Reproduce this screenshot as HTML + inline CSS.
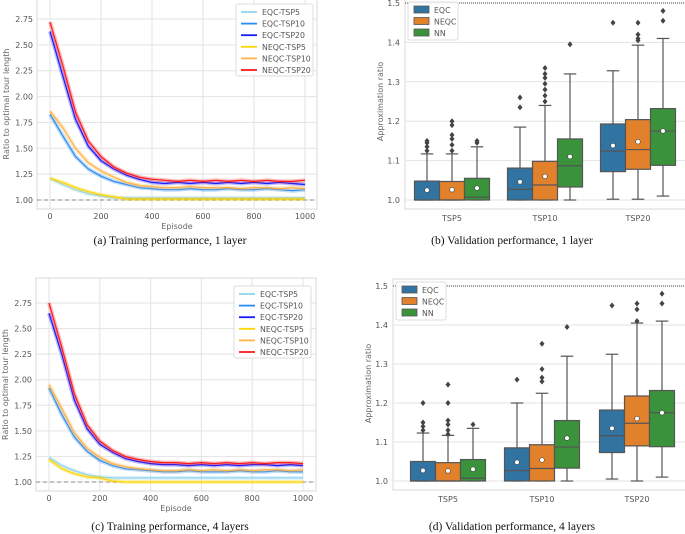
<!DOCTYPE html>
<html><head><meta charset="utf-8"><style>
body{margin:0;background:#fff;}
svg{display:block;font-family:"DejaVu Sans","Liberation Sans",sans-serif;}
.cap{font-family:"Liberation Serif",serif;font-size:11.5px;fill:#111;}
</style></head><body>
<svg id="fig" width="685" height="534" viewBox="0 0 685 534" xmlns="http://www.w3.org/2000/svg"></svg>
<script>
// ---- training data (episodes sampled every 50) ----
const episodes=[0,50,100,150,200,250,300,350,400,450,500,550,600,650,700,750,800,850,900,950,1000];
const seriesNames=["EQC-TSP5","EQC-TSP10","EQC-TSP20","NEQC-TSP5","NEQC-TSP10","NEQC-TSP20"];
const a_eqc5=[1.21,1.15,1.10,1.06,1.04,1.02,1.02,1.02,1.02,1.02,1.02,1.02,1.02,1.02,1.02,1.02,1.02,1.02,1.02,1.02,1.02];
const a_eqc10=[1.83,1.62,1.42,1.30,1.23,1.18,1.15,1.12,1.11,1.10,1.10,1.11,1.10,1.10,1.11,1.10,1.10,1.11,1.10,1.09,1.10];
const a_eqc20=[2.63,2.20,1.78,1.52,1.38,1.30,1.24,1.20,1.17,1.16,1.17,1.16,1.17,1.16,1.17,1.16,1.17,1.16,1.17,1.16,1.15];
const a_neqc5=[1.21,1.17,1.12,1.08,1.05,1.03,1.01,1.01,1.01,1.01,1.01,1.01,1.01,1.01,1.01,1.01,1.01,1.01,1.01,1.01,1.01];
const a_neqc10=[1.86,1.70,1.50,1.36,1.28,1.22,1.17,1.14,1.13,1.12,1.12,1.13,1.12,1.12,1.12,1.11,1.12,1.12,1.11,1.12,1.11];
const a_neqc20=[2.72,2.30,1.85,1.57,1.42,1.32,1.26,1.22,1.20,1.19,1.18,1.19,1.18,1.19,1.18,1.19,1.18,1.19,1.18,1.18,1.19];
const c_eqc5=[1.24,1.16,1.11,1.07,1.05,1.04,1.04,1.04,1.04,1.04,1.04,1.04,1.04,1.04,1.04,1.04,1.04,1.04,1.04,1.04,1.04];
const c_eqc10=[1.92,1.66,1.44,1.30,1.21,1.16,1.13,1.12,1.11,1.10,1.10,1.11,1.10,1.10,1.10,1.11,1.10,1.10,1.11,1.10,1.10];
const c_eqc20=[2.65,2.25,1.80,1.52,1.37,1.29,1.23,1.20,1.18,1.17,1.17,1.16,1.17,1.16,1.17,1.16,1.17,1.17,1.16,1.17,1.16];
const c_neqc5=[1.22,1.13,1.08,1.05,1.04,1.01,1.00,1.00,1.00,1.00,1.00,1.00,1.00,1.00,1.00,1.00,1.00,1.00,1.00,1.00,1.00];
const c_neqc10=[1.95,1.72,1.48,1.33,1.24,1.18,1.15,1.13,1.12,1.11,1.11,1.12,1.11,1.12,1.11,1.12,1.11,1.12,1.12,1.11,1.12];
const c_neqc20=[2.75,2.32,1.86,1.56,1.40,1.31,1.25,1.22,1.20,1.19,1.19,1.18,1.19,1.18,1.19,1.18,1.19,1.18,1.19,1.19,1.18];
const trainXTicks=[0,200,400,600,800,1000];
const trainYTicks=[1.00,1.25,1.50,1.75,2.00,2.25,2.50,2.75];
// ---- validation data ----
const groups=["TSP5","TSP10","TSP20"];
const methods=["EQC","NEQC","NN"];
const valYTicks=[1.0,1.1,1.2,1.3,1.4,1.5];
// each stat: [whisLo,q1,med,q3,whisHi,mean], order TSP5(EQC,NEQC,NN),TSP10(...),TSP20(...)
const b_stats=[[1.0,1.0,1.0,1.048,1.117,1.025],[1.0,1.0,1.0,1.047,1.117,1.026],[1.0,1.0,1.007,1.055,1.135,1.03],
 [1.0,1.0,1.027,1.081,1.185,1.046],[1.0,1.0,1.038,1.098,1.24,1.06],[1.0,1.033,1.087,1.155,1.32,1.11],
 [1.002,1.072,1.124,1.193,1.328,1.138],[1.002,1.078,1.128,1.204,1.393,1.148],[1.01,1.088,1.175,1.232,1.41,1.175]];
const b_outliers=[[1.125,1.135,1.145,1.15],[1.125,1.14,1.155,1.165,1.19,1.2],[1.145,1.15],
 [1.235,1.26],[1.25,1.265,1.28,1.295,1.31,1.32,1.335],[1.395],
 [1.45],[1.405,1.41,1.42,1.45],[1.455,1.48]];
const d_stats=[[1.0,1.0,1.0,1.05,1.123,1.027],[1.0,1.0,1.0,1.047,1.117,1.026],[1.0,1.0,1.007,1.055,1.135,1.03],
 [1.0,1.0,1.027,1.085,1.2,1.048],[1.0,1.0,1.032,1.093,1.225,1.054],[1.0,1.033,1.087,1.155,1.32,1.11],
 [1.005,1.073,1.116,1.182,1.325,1.135],[1.0,1.09,1.148,1.218,1.405,1.16],[1.01,1.088,1.175,1.232,1.41,1.175]];
const d_outliers=[[1.13,1.14,1.15,1.2],[1.12,1.13,1.145,1.155,1.2,1.247],[1.145],
 [1.26],[1.255,1.265,1.287,1.352],[1.395],
 [1.45],[1.41,1.44,1.455],[1.455,1.48]];

const NS="http://www.w3.org/2000/svg";
const svg=document.getElementById('fig');
function el(tag,attrs,parent,text){const e=document.createElementNS(NS,tag);for(const k in attrs)e.setAttribute(k,attrs[k]);if(text!==undefined)e.textContent=text;(parent||svg).appendChild(e);return e;}
const lineColors=["#8fd3ef","#2a8cf2","#1a1aff","#ffd400","#ffb347","#ff1a1a"];
const boxColors=["#3274a1","#e1812c","#3a923a"];

function trainPanel(id,P,data){
  const g=el('g',{});
  
  
  const sx=v=>P.x0+(v-0)/1000*(P.x1-P.x0);
  const sy=v=>P.y0+(v-1)/1.75*(P.y1-P.y0);
  el('rect',{x:P.l,y:P.t,width:P.r-P.l,height:P.b-P.t,fill:'#fff',stroke:'#d9d9d9','stroke-width':1},g);
  trainXTicks.forEach(t=>{el('line',{x1:sx(t),x2:sx(t),y1:P.t,y2:P.b,stroke:'#e3e3e3'},g);
    const tx=el('text',{x:sx(t),y:P.b+10,'font-size':8,fill:'#555','text-anchor':'middle'},g,String(t));
    });
  trainYTicks.forEach(t=>{el('line',{x1:P.l,x2:P.r,y1:sy(t),y2:sy(t),stroke:'#e3e3e3'},g);
    const ty=el('text',{x:P.l-4,y:sy(t)+3,'font-size':8,fill:'#555','text-anchor':'end'},g,t.toFixed(2));
    });
  el('line',{x1:P.l,x2:P.r,y1:sy(1),y2:sy(1),stroke:'#888','stroke-dasharray':'4,3','stroke-width':1},g);
  data.forEach((s,i)=>{
    const pts=episodes.map((e,k)=>sx(e).toFixed(1)+','+sy(s[k]).toFixed(1)).join(' ');
    el('polyline',{points:pts,fill:'none',stroke:lineColors[i],'stroke-opacity':0.3,'stroke-width':4,'stroke-linejoin':'round'},g);
    const pl=el('polyline',{points:pts,fill:'none',stroke:lineColors[i],'stroke-width':1.2,'stroke-linejoin':'round'},g);
    
    
  });
  const xl=el('text',{x:(P.l+P.r)/2,y:P.b+20,'font-size':8,fill:'#666','text-anchor':'middle'},g,'Episode');
  
  const yl=el('text',{x:0,y:0,'font-size':8,fill:'#666','text-anchor':'middle',transform:`translate(${P.l-28},${(P.t+P.b)/2}) rotate(-90)`},g,'Ratio to optimal tour length');
  
  const lg=el('g',{},g);
  
  el('rect',{x:P.lx,y:P.ly,width:77,height:72,fill:'#fff','fill-opacity':0.9,stroke:'#ddd',rx:2},lg);
  seriesNames.forEach((n,i)=>{const y=P.ly+8+i*11.6;
    el('line',{x1:P.lx+5,x2:P.lx+21,y1:y,y2:y,stroke:lineColors[i],'stroke-width':1.8},lg);
    const t=el('text',{x:P.lx+26,y:y+3,'font-size':7.8,fill:'#555'},lg,n);
    });
}

function valPanel(id,P,stats,outl){
  const g=el('g',{});
  
  
  const sy=v=>P.y0+(v-1)/0.5*(P.y1-P.y0);
  el('rect',{x:P.l,y:P.t,width:P.r-P.l+2,height:P.b-P.t,fill:'#fff',stroke:'#d9d9d9'},g);
  valYTicks.forEach(t=>{el('line',{x1:P.l,x2:P.r,y1:sy(t),y2:sy(t),stroke:'#e3e3e3'},g);
    const ty=el('text',{x:P.l-5,y:sy(t)+3,'font-size':8,fill:'#555','text-anchor':'end'},g,t.toFixed(1));
    });
  el('line',{x1:P.l,x2:P.r,y1:sy(1.5),y2:sy(1.5),stroke:'#222','stroke-dasharray':'1,1','stroke-width':0.8},g);
  groups.forEach((gn,gi)=>{
    const tx=el('text',{x:P.c[gi],y:P.b+12,'font-size':8,fill:'#555','text-anchor':'middle'},g,gn);
    
    methods.forEach((m,mi)=>{
      const k=gi*3+mi,s=stats[k],cx=P.c[gi]+(mi-1)*P.off,w=P.w;
      const bg=el('g',{},g);
      
      
      el('line',{x1:cx,x2:cx,y1:sy(s[0]),y2:sy(s[4]),stroke:'#555','stroke-width':1.2},bg);
      [s[0],s[4]].forEach(v=>el('line',{x1:cx-w/4,x2:cx+w/4,y1:sy(v),y2:sy(v),stroke:'#555','stroke-width':1.2},bg));
      el('rect',{x:cx-w/2,y:sy(s[3]),width:w,height:Math.max(sy(s[1])-sy(s[3]),0.5),fill:boxColors[mi],stroke:'#555','stroke-width':1.2},bg);
      el('line',{x1:cx-w/2,x2:cx+w/2,y1:sy(s[2]),y2:sy(s[2]),stroke:'#555','stroke-width':1.2},bg);
      el('circle',{cx:cx,cy:sy(s[5]),r:2.3,fill:'#fff',stroke:'#444','stroke-width':0.6},bg);
      outl[k].forEach(v=>el('path',{d:`M${cx} ${sy(v)-3}L${cx+2.5} ${sy(v)}L${cx} ${sy(v)+3}L${cx-2.5} ${sy(v)}Z`,fill:'#444'},bg));
    });
  });
  const yl=el('text',{x:0,y:0,'font-size':8,fill:'#666','text-anchor':'middle',transform:`translate(${P.l-22},${(sy(1)+sy(1.5))/2}) rotate(-90)`},g,'Approximation ratio');
  
  const lg=el('g',{},g);
  
  el('rect',{x:P.l+3,y:P.t+3,width:50,height:38,fill:'#fff','fill-opacity':0.9,stroke:'#ddd',rx:2},lg);
  methods.forEach((m,i)=>{const y=P.t+11+i*11.5;
    el('rect',{x:P.l+9,y:y-4,width:15,height:7,fill:boxColors[i],stroke:'#555','stroke-width':0.8},lg);
    const t=el('text',{x:P.l+29,y:y+3,'font-size':7.8,fill:'#555'},lg,m);
    });
}

trainPanel('a',{l:37,r:317,t:-1,b:209,x0:50,x1:305,y0:200,y1:19,lx:236,ly:4},[a_eqc5,a_eqc10,a_eqc20,a_neqc5,a_neqc10,a_neqc20]);
trainPanel('c',{l:36,r:316,t:278,b:491,x0:49,x1:303,y0:482,y1:303,lx:234,ly:286},[c_eqc5,c_eqc10,c_eqc20,c_neqc5,c_neqc10,c_neqc20]);
valPanel('b',{l:405,r:685,t:-1,b:209,y0:200,y1:3,c:[452,545,638],off:25,w:25},b_stats,b_outliers);
valPanel('d',{l:393,r:685,t:279,b:490,y0:481,y1:286,c:[448,542,637],off:25,w:25},d_stats,d_outliers);

const caps=[[170,244,'(a) Training performance, 1 layer'],[512,244,'(b) Validation performance, 1 layer'],[170,530,'(c) Training performance, 4 layers'],[512,530,'(d) Validation performance, 4 layers']];
caps.forEach((c,i)=>{const t=el('text',{x:c[0],y:c[1],'text-anchor':'middle',class:'cap'},svg,c[2]);
  });
</script>
</body></html>
